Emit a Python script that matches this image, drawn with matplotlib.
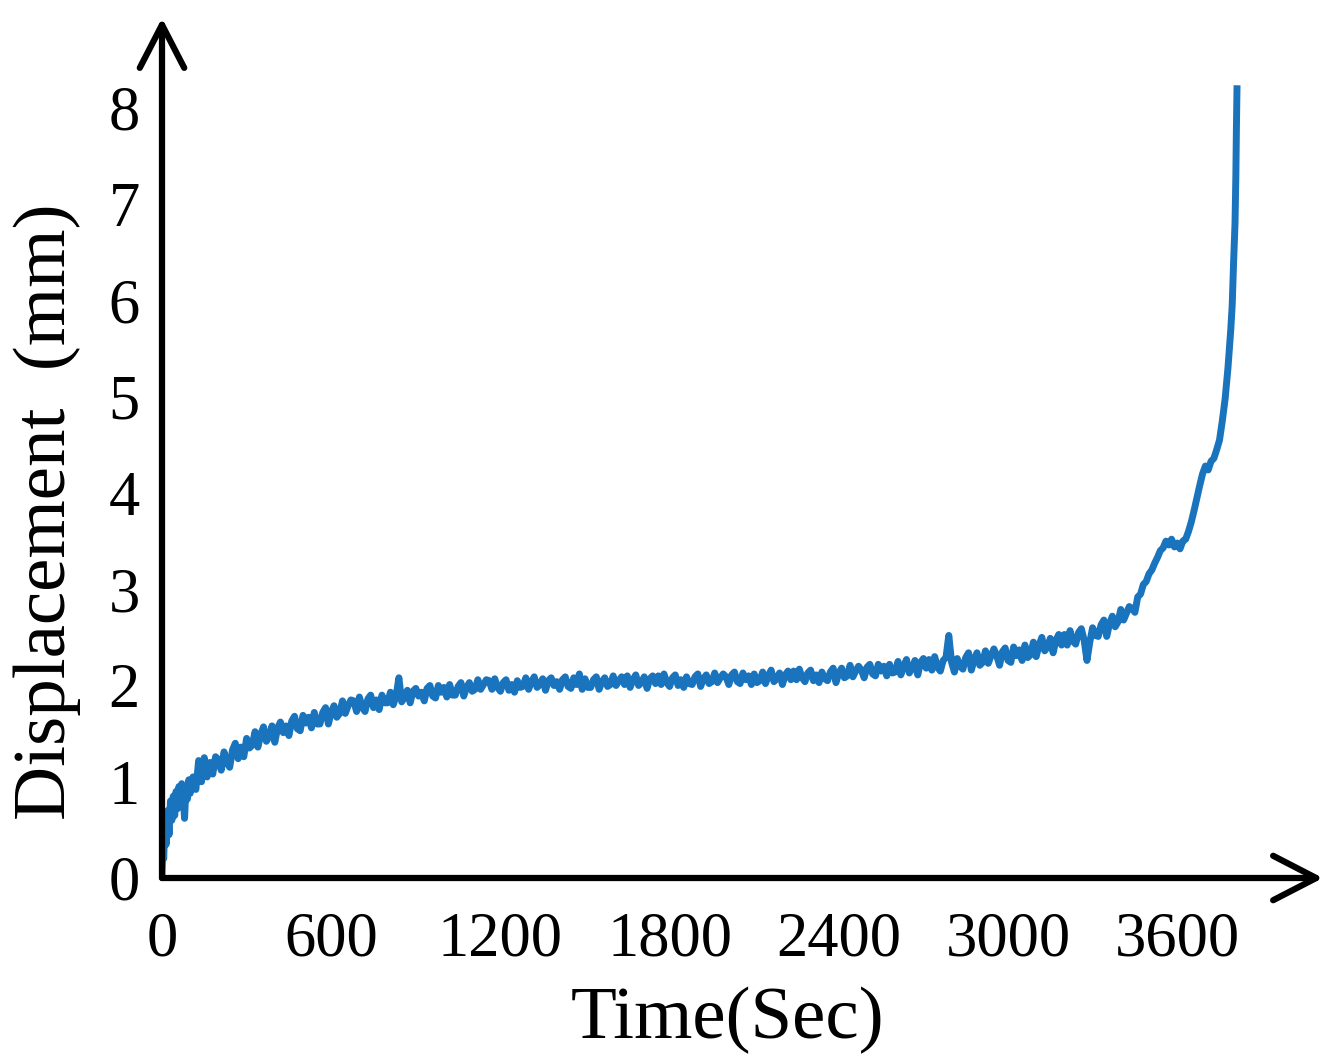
import matplotlib
matplotlib.use("Agg")
import matplotlib.pyplot as plt

plt.rcParams['font.family'] = ['Liberation Serif', 'DejaVu Serif']

# displacement record (time in s, displacement in mm)
# first minutes: fast rise
early_t = [0, 3, 6, 10, 15, 20, 25, 30, 35, 40, 45, 50, 55, 60, 65, 70, 75, 80,
           85, 90, 95, 100, 110, 120, 130, 140, 150, 160, 170, 180, 190]
early_d = [0.05, 0.30, 0.20, 0.55, 0.35, 0.70, 0.45, 0.80, 0.60, 0.85, 0.65, 0.90,
           0.72, 0.95, 0.78, 0.98, 0.85, 0.62, 0.95, 0.82, 1.02, 0.88, 1.05, 0.92,
           1.22, 1.00, 1.25, 1.05, 1.20, 1.08, 1.26]

# primary creep, bending over to the flat part
prim_t = [200, 210, 220, 230, 240, 250, 260, 270, 280, 290, 300, 310,
          320, 330, 340, 350, 360, 370, 380, 390, 400, 410, 420, 430,
          440, 450, 460, 470, 480, 490, 500, 510, 520, 530, 540, 550,
          560, 570, 580, 590, 600, 610, 620, 630, 640, 650, 660, 670,
          680, 690, 700, 710, 720, 730, 740, 750, 760, 770, 780, 790,
          800, 810, 820, 830, 840, 850, 860, 870, 880, 890, 900, 910,
          920, 930, 940, 950, 960, 970, 980, 990, 1000, 1010, 1020, 1030,
          1040, 1050, 1060, 1070, 1080, 1090, 1100, 1110, 1120, 1130, 1140, 1150,
          1160, 1170, 1180, 1190, 1200, 1210, 1220, 1230, 1240, 1250, 1260, 1270]
prim_d = [1.23, 1.12, 1.31, 1.20, 1.15, 1.33, 1.40, 1.24, 1.36, 1.26, 1.45, 1.35,
          1.38, 1.52, 1.36, 1.49, 1.57, 1.42, 1.47, 1.58, 1.41, 1.56, 1.62, 1.51,
          1.58, 1.48, 1.63, 1.68, 1.55, 1.53, 1.69, 1.61, 1.67, 1.56, 1.72, 1.60,
          1.60, 1.72, 1.77, 1.60, 1.72, 1.79, 1.67, 1.71, 1.84, 1.71, 1.79, 1.85,
          1.84, 1.73, 1.88, 1.77, 1.73, 1.86, 1.90, 1.77, 1.85, 1.75, 1.90, 1.82,
          1.82, 1.93, 1.80, 1.89, 2.08, 1.83, 1.88, 1.95, 1.82, 1.94, 1.97, 1.89,
          1.93, 1.84, 1.97, 2.00, 1.89, 1.87, 2.00, 1.93, 1.98, 1.88, 2.01, 1.90,
          1.90, 1.99, 2.03, 1.89, 1.98, 2.03, 1.94, 1.96, 2.06, 1.96, 2.01, 2.06,
          2.05, 1.96, 2.07, 1.98, 1.94, 2.03, 2.06, 1.95, 2.01, 1.93, 2.05, 1.98]

# secondary (steady) creep
sec_t = [1280, 1290, 1300, 1310, 1320, 1330, 1340, 1350, 1360, 1370, 1380, 1390,
         1400, 1410, 1420, 1430, 1440, 1450, 1460, 1470, 1480, 1490, 1500, 1510,
         1520, 1530, 1540, 1550, 1560, 1570, 1580, 1590, 1600, 1610, 1620, 1630,
         1640, 1650, 1660, 1670, 1680, 1690, 1700, 1710, 1720, 1730, 1740, 1750,
         1760, 1770, 1780, 1790, 1800, 1810, 1820, 1830, 1840, 1850, 1860, 1870,
         1880, 1890, 1900, 1910, 1920, 1930, 1940, 1950, 1960, 1970, 1980, 1990,
         2000, 2010, 2020, 2030, 2040, 2050, 2060, 2070, 2080, 2090, 2100, 2110,
         2120, 2130, 2140, 2150, 2160, 2170, 2180, 2190, 2200, 2210, 2220, 2230,
         2240, 2250, 2260, 2270, 2280, 2290, 2300, 2310, 2320, 2330, 2340, 2350,
         2360, 2370, 2380, 2390, 2400, 2410, 2420, 2430, 2440, 2450, 2460, 2470,
         2480, 2490, 2500, 2510, 2520, 2530, 2540, 2550, 2560, 2570, 2580, 2590,
         2600, 2610, 2620, 2630, 2640, 2650, 2660, 2670, 2680, 2690, 2700, 2710]
sec_d = [1.99, 2.08, 1.96, 2.04, 2.09, 1.98, 2.01, 2.07, 1.95, 2.05, 2.08, 2.00,
         2.04, 1.96, 2.06, 2.09, 1.99, 1.97, 2.08, 2.01, 2.12, 1.96, 2.07, 1.98,
         1.98, 2.06, 2.09, 1.96, 2.04, 2.08, 1.99, 2.01, 2.10, 2.00, 2.05, 2.09,
         2.01, 2.10, 1.98, 2.06, 2.11, 2.00, 2.03, 2.09, 1.97, 2.07, 2.10, 2.02,
         2.10, 2.01, 2.12, 2.03, 1.99, 2.08, 2.11, 2.00, 2.06, 1.98, 2.09, 2.02,
         2.01, 2.09, 2.12, 1.99, 2.07, 2.11, 2.02, 2.04, 2.13, 2.03, 2.08, 2.12,
         2.09, 2.01, 2.11, 2.14, 2.04, 2.02, 2.13, 2.06, 2.10, 2.01, 2.12, 2.03,
         2.05, 2.14, 2.02, 2.10, 2.16, 2.04, 2.07, 2.13, 2.01, 2.11, 2.15, 2.06,
         2.15, 2.06, 2.17, 2.08, 2.04, 2.13, 2.16, 2.05, 2.11, 2.03, 2.14, 2.07,
         2.05, 2.14, 2.18, 2.03, 2.13, 2.18, 2.08, 2.10, 2.21, 2.09, 2.15, 2.20,
         2.16, 2.08, 2.19, 2.22, 2.12, 2.10, 2.22, 2.15, 2.20, 2.10, 2.22, 2.13,
         2.14, 2.25, 2.11, 2.20, 2.27, 2.13, 2.18, 2.26, 2.11, 2.24, 2.28, 2.18]

# tertiary creep up to failure
tert_t = [2720, 2730, 2740, 2750, 2760, 2770, 2780, 2790, 2800, 2810, 2820, 2830,
          2840, 2850, 2860, 2870, 2880, 2890, 2900, 2910, 2920, 2930, 2940, 2950,
          2960, 2970, 2980, 2990, 3000, 3010, 3020, 3030, 3040, 3050, 3060, 3070,
          3080, 3090, 3100, 3110, 3120, 3130, 3140, 3150, 3160, 3170, 3180, 3190,
          3200, 3210, 3220, 3230, 3240, 3250, 3260, 3270, 3280, 3290, 3300, 3310,
          3320, 3330, 3340, 3350, 3360, 3370, 3380, 3390, 3400, 3410, 3420, 3430,
          3440, 3450, 3460, 3470, 3480, 3490, 3500, 3510, 3520, 3530, 3540, 3550,
          3560, 3570, 3580, 3590, 3600, 3610, 3620, 3630, 3640, 3650, 3660, 3670,
          3680, 3690, 3700, 3710, 3720, 3730, 3740, 3750, 3760, 3770, 3780, 3790,
          3795, 3800, 3805, 3808, 3810, 3812]
tert_d = [2.27, 2.16, 2.30, 2.19, 2.15, 2.26, 2.29, 2.52, 2.24, 2.14, 2.28, 2.20,
          2.17, 2.29, 2.34, 2.16, 2.27, 2.34, 2.21, 2.24, 2.36, 2.23, 2.31, 2.38,
          2.31, 2.21, 2.35, 2.39, 2.26, 2.24, 2.40, 2.31, 2.37, 2.26, 2.42, 2.29,
          2.32, 2.45, 2.30, 2.42, 2.50, 2.36, 2.40, 2.49, 2.34, 2.47, 2.53, 2.42,
          2.53, 2.42, 2.57, 2.46, 2.43, 2.55, 2.59, 2.47, 2.26, 2.45, 2.60, 2.52,
          2.51, 2.63, 2.68, 2.51, 2.64, 2.72, 2.61, 2.66, 2.79, 2.68, 2.75, 2.82,
          2.80, 2.76, 2.92, 2.95, 3.05, 3.08, 3.16, 3.20, 3.27, 3.33, 3.40, 3.43,
          3.50, 3.46, 3.52, 3.44, 3.48, 3.42, 3.50, 3.52, 3.60, 3.70, 3.82, 3.95,
          4.08, 4.20, 4.28, 4.24, 4.33, 4.36, 4.45, 4.55, 4.75, 4.98, 5.30, 5.70,
          5.95, 6.40, 6.80, 7.30, 7.80, 8.20]

time_s = early_t + prim_t + sec_t + tert_t
disp_mm = early_d + prim_d + sec_d + tert_d

x_ticks = [0, 600, 1200, 1800, 2400, 3000, 3600]
y_ticks = [0, 1, 2, 3, 4, 5, 6, 7, 8]

fig = plt.figure(figsize=(13.36, 10.64), dpi=100)
ax = fig.add_axes([162 / 1336, 186 / 1064, 1161 / 1336, 860 / 1064])

ax.plot(time_s, disp_mm, color='#1a74bd', lw=5.0, solid_joinstyle='round')

ax.set_xlim(0, 4117)
ax.set_ylim(0, 8.935)
ax.set_xticks(x_ticks)
ax.set_yticks(y_ticks)
ax.tick_params(axis='both', length=0, labelsize=45)
ax.tick_params(axis='x', pad=24)
ax.tick_params(axis='y', pad=16)
for s in ax.spines.values():
    s.set_visible(False)

# axes drawn as arrows
arrow = dict(arrowstyle='->, head_length=3.1, head_width=1.6', lw=4.5,
             color='black', shrinkA=0, shrinkB=0, mutation_scale=10)
ax.annotate('', xy=(1, 0), xytext=(0, 0), xycoords='axes fraction',
            arrowprops=arrow, annotation_clip=False)
ax.annotate('', xy=(0, 1), xytext=(0, 0), xycoords='axes fraction',
            arrowprops=arrow, annotation_clip=False)

fig.text(727 / 1336, 1 - 1038 / 1064, 'Time(Sec)', fontsize=54,
         ha='center', va='baseline')
fig.text(47 / 1336, 1 - 512 / 1064, 'Displacement  (mm)', fontsize=54,
         ha='center', va='center', rotation=90)

fig.savefig('out.png', dpi=100)
